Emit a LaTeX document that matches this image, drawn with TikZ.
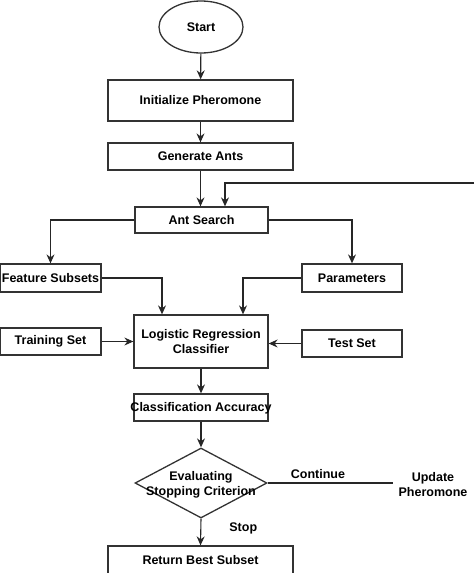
\documentclass[tikz,border=0pt]{standalone}
\usepackage{fontspec}
\setmainfont{Liberation Sans}
\usetikzlibrary{shapes.geometric,arrows.meta}
\begin{document}
\begin{tikzpicture}[x=1pt,y=-1pt,
  every node/.style={font=\fontsize{12.5}{15}\selectfont\bfseries, inner sep=0pt, align=center},
  box/.style={draw=black!80, line width=1.3pt, rectangle, minimum width=#1},
  arr/.style={-{Stealth[length=9pt,width=8pt,inset=3pt]}, line width=1.1pt, draw=black!85},
  ln/.style={line width=1.1pt, draw=black!85}]
\useasboundingbox (0,0) rectangle (474,573);
\node[draw=black!80, line width=1.3pt, ellipse, minimum width=84pt, minimum height=52pt] (start) at (201,27) {Start};
\node[box=185pt, minimum height=41pt] (init) at (200.5,100.5) {Initialize Pheromone};
\node[box=185pt, minimum height=27pt] (gen) at (200.5,156.5) {Generate Ants};
\node[box=133pt, minimum height=26pt] (ant) at (201.5,220) {Ant Search};
\node[box=101pt, minimum height=28pt] (fs) at (50.5,278) {Feature Subsets};
\node[box=100pt, minimum height=28pt] (par) at (352,278) {Parameters};
\node[box=134pt, minimum height=53pt] (lr) at (201,341.5) {Logistic Regression\\Classifier};
\node[box=101pt, minimum height=27pt] (trs) at (50.5,341.5) {Training Set};
\node[box=100pt, minimum height=27pt] (tes) at (352,343.5) {Test Set};
\node[box=134pt, minimum height=27pt] (acc) at (201,407.5) {};
\node (acct) at (201,408) {Classification Accuracy};
\node[draw=black!80, line width=1.3pt, diamond, minimum width=132pt, minimum height=70pt, aspect=1.9] (dec) at (201,483) {};
\node (dect) at (201,484.5) {Evaluating\\Stopping Criterion};
\node[inner sep=5pt] (upd) at (433,485) {Update\\Pheromone};
\node[box=185pt, minimum height=28pt] (ret) at (200.5,560) {Return Best Subset};
\coordinate (fb) at (474,183);

\draw[arr] (start) -- (init);
\draw[arr] (init) -- (gen);
\draw[arr] (gen.south) -- (gen.south |- ant.north);
\draw[arr] (fb) -| ([xshift=23.5pt]ant.north);
\draw[arr] (ant.west) -| (fs.north);
\draw[arr] (ant.east) -| (par.north);
\draw[arr] (fs.east) -| ([xshift=-39pt]lr.north);
\draw[arr] (par.west) -| ([xshift=42pt]lr.north);
\draw[arr] (trs.east) -- (trs.east -| lr.west);
\draw[arr] (tes.west) -- (tes.west -| lr.east);
\draw[arr] (lr) -- (acc);
\draw[arr] (acc) -- (dec);
\draw[ln] (dec.east) -- (upd.west |- dec.east) node[pos=0.4, above=4pt] (cont) {Continue};
\draw[arr] (dec.south) -- (ret.north) node[pos=0.35, right=28pt] (stop) {Stop};
\end{tikzpicture}
\end{document}
